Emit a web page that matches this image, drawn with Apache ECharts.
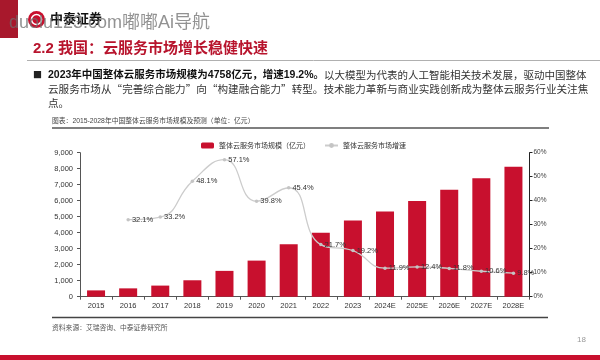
<!DOCTYPE html>
<html><head><meta charset="utf-8">
<script src="https://cdn.jsdelivr.net/npm/echarts@6/dist/echarts.min.js"></script>
<style>html,body{margin:0;padding:0;background:#fff}#c{width:600px;height:360px}</style>
</head><body><div id="c"></div>
<script>
const categories = ['2015','2016','2017','2018','2019','2020','2021','2022','2023','2024E','2025E','2026E','2027E','2028E'];
const marketSize = [394, 521, 694, 1027, 1614, 2256, 3280, 3992, 4758, 5324, 5984, 6690, 7399, 8124];
const growthRate = [null, 32.1, 33.2, 48.1, 57.1, 39.8, 45.4, 21.7, 19.2, 11.9, 12.4, 11.8, 10.6, 9.8];
const seriesNames = ['整体云服务市场规模（亿元）', '整体云服务市场增速'];
const leftAxisRange = [0, 9000, 1000];
const rightAxisRange = [0, 60, 10];

const RED = '#c8102e';
const CJK = "'Noto Sans CJK SC', sans-serif";
const MIX = "'Liberation Sans', 'Noto Sans CJK SC', sans-serif";

const chart = echarts.init(document.getElementById('c'), null, {renderer: 'canvas'});

const graphic = [
  {type:'rect', shape:{x:0,y:0,width:18,height:38}, style:{fill:'#a8182c'}},
  {type:'circle', shape:{cx:36.5, cy:19.5, r:8.5}, style:{fill:'#c8102e'}},
  {type:'circle', shape:{cx:36.5, cy:19.5, r:5}, style:{fill:'none', stroke:'#fff', lineWidth:1.6}},
  {type:'text', style:{text:'中泰证券', x:50, y:18, font:"bold 13px 'Noto Sans CJK SC'", fill:'#111', verticalAlign:'middle'}},
  {type:'text', z:100, style:{text:'duolu123.com嘟嘟Ai导航', x:9, y:23, font:"18px 'Liberation Sans','Noto Sans CJK SC'", fill:'rgba(110,110,110,0.75)', verticalAlign:'middle'}},
  {type:'text', style:{text:'2.2 我国：云服务市场增长稳健快速', x:33, y:49, font:"bold 15px 'Liberation Sans','Noto Sans CJK SC'", fill:'#b8142d', verticalAlign:'middle'}},
  {type:'line', shape:{x1:27,y1:60.5,x2:600,y2:60.5}, style:{stroke:'#b0b0b0', lineWidth:1}},
  {type:'text', style:{text:'■', x:33, y:75, font:"9px 'Noto Sans CJK SC'", fill:'#222', verticalAlign:'middle'}},
  {type:'text', style:{
    text:'{b|2023年中国整体云服务市场规模为4758亿元，增速19.2%。}{r|以大模型为代表的人工智能相关技术发展，驱动中国整体}',
    x:48, y:75, verticalAlign:'middle',
    rich:{
      b:{font:"bold 10.5px 'Liberation Sans','Noto Sans CJK SC'", fill:'#111'},
      r:{font:"10.5px 'Noto Sans CJK SC'", fill:'#333'}
    }}},
  {type:'text', style:{text:'云服务市场从“完善综合能力”向“构建融合能力”转型。技术能力革新与商业实践创新成为整体云服务行业关注焦', x:48, y:89, font:"10.6px 'Noto Sans CJK SC'", fill:'#333', verticalAlign:'middle'}},
  {type:'text', style:{text:'点。', x:48, y:103, font:"10.6px 'Noto Sans CJK SC'", fill:'#333', verticalAlign:'middle'}},
  {type:'text', style:{text:'图表：2015-2028年中国整体云服务市场规模及预测（单位：亿元）', x:52, y:121.5, font:"6.8px 'Liberation Sans','Noto Sans CJK SC'", fill:'#444', verticalAlign:'middle'}},
  {type:'line', shape:{x1:52,y1:128,x2:549,y2:128}, style:{stroke:'#555', lineWidth:1.5}},
  {type:'line', shape:{x1:52,y1:317.5,x2:548,y2:317.5}, style:{stroke:'#444', lineWidth:1.5}},
  {type:'text', style:{text:'资料来源：艾瑞咨询、中泰证券研究所', x:52, y:327.5, font:"6.8px 'Noto Sans CJK SC'", fill:'#555', verticalAlign:'middle'}},
  {type:'text', style:{text:'18', x:577, y:340, font:"8px 'Liberation Sans'", fill:'#999', verticalAlign:'middle'}},
  {type:'rect', shape:{x:0,y:355,width:600,height:5}, style:{fill:RED}}
];

chart.setOption({
  animation: false,
  backgroundColor: '#fff',
  graphic: graphic,
  legend: {
    left: 196, top: 137,
    itemWidth: 13, itemHeight: 6, itemGap: 14,
    textStyle: {fontFamily: CJK, fontSize: 7, color: '#333'},
    data: seriesNames
  },
  grid: {left: 80, right: 70.5, top: 152.7, bottom: 63.3},
  xAxis: {
    type: 'category', data: categories, boundaryGap: true,
    axisLine: {show: true, lineStyle: {color: '#555', width: 1}},
    axisTick: {show: true, length: 3, lineStyle: {color: '#555'}},
    axisLabel: {fontFamily: MIX, fontSize: 7.5, color: '#333', margin: 5}
  },
  yAxis: [
    {
      type: 'value', min: leftAxisRange[0], max: leftAxisRange[1], interval: leftAxisRange[2],
      splitLine: {show: false},
      axisLine: {show: true, lineStyle: {color: '#555'}},
      axisTick: {show: true, length: 3, lineStyle: {color: '#555'}},
      axisLabel: {fontFamily: MIX, fontSize: 7.5, color: '#333', margin: 7,
        formatter: v => v.toLocaleString('en-US')}
    },
    {
      type: 'value', min: rightAxisRange[0], max: rightAxisRange[1], interval: rightAxisRange[2],
      splitLine: {show: false},
      axisLine: {show: true, lineStyle: {color: '#222'}},
      axisTick: {show: true, length: 3, lineStyle: {color: '#222'}},
      axisLabel: {fontFamily: MIX, fontSize: 6.5, color: '#444', margin: 4, formatter: '{value}%'}
    }
  ],
  series: [
    {
      name: seriesNames[0], type: 'bar', data: marketSize, barWidth: 18,
      itemStyle: {color: RED}
    },
    {
      name: seriesNames[1], type: 'line', yAxisIndex: 1, data: growthRate,
      smooth: 0.5, z: 5,
      symbol: 'circle', symbolSize: 3.5,
      lineStyle: {color: '#cccccc', width: 1.3},
      itemStyle: {color: '#c4c4c4'},
      label: {show: true, position: 'right', distance: 2, fontFamily: MIX, fontSize: 7.5, color: '#333',
        formatter: p => (p.value == null ? '' : p.value.toFixed(1) + '%')}
    }
  ]
});
</script></body></html>
